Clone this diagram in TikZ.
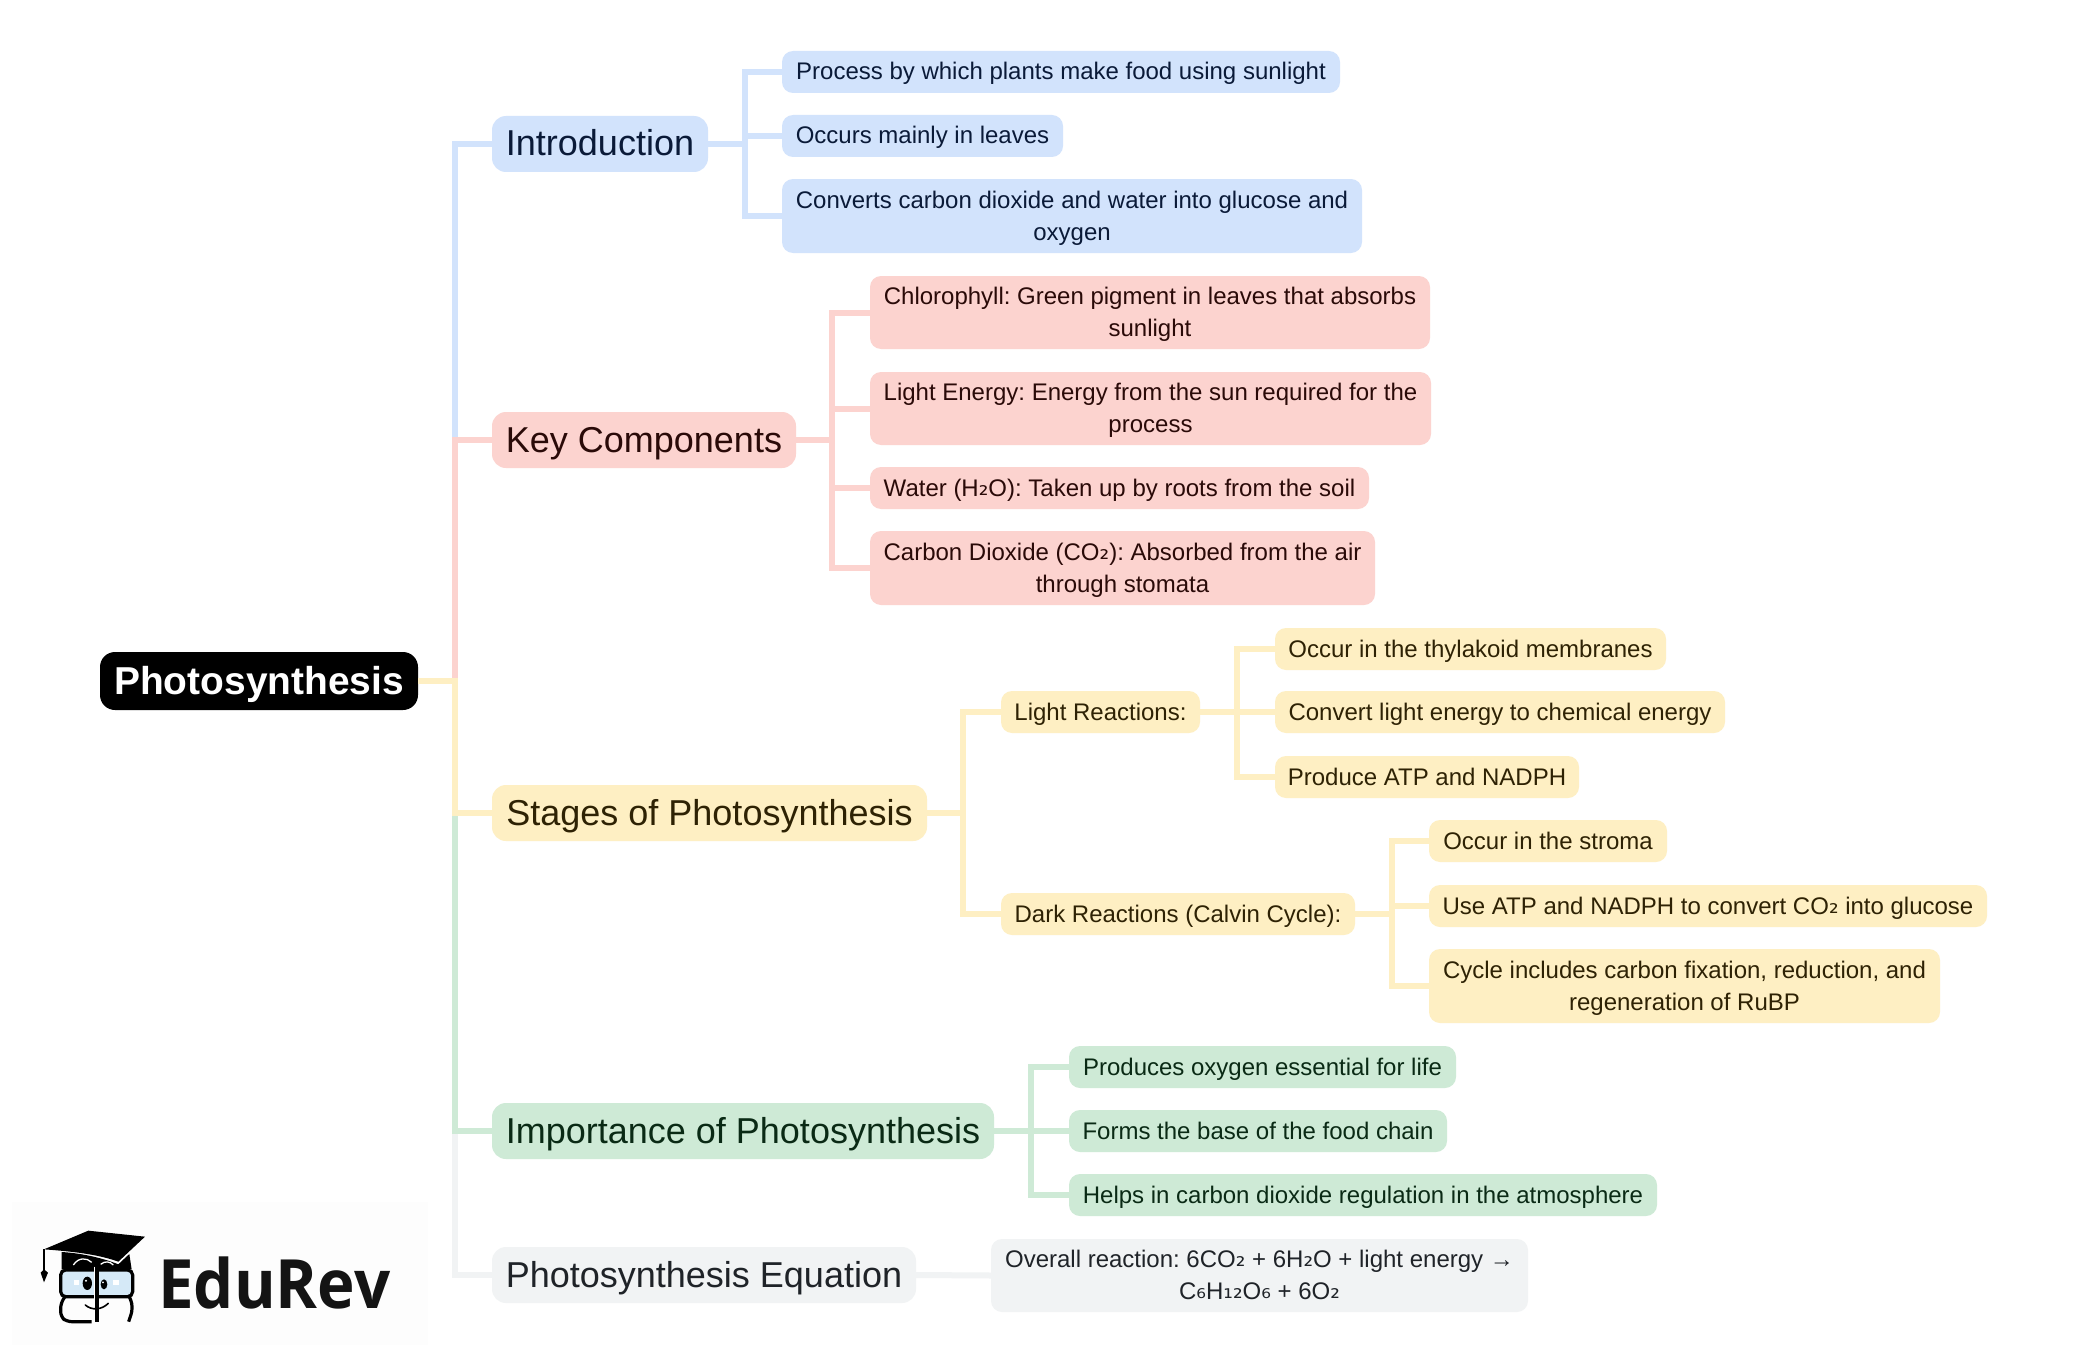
\documentclass[tikz,border=0pt]{standalone}
\usepackage{fontspec}
\setmainfont{Liberation Sans}
\newfontfamily\logofont{Open Sans}
\newfontfamily\subfont{DejaVu Sans}
\newcommand{\sbd}[1]{\raisebox{0.03em}{\subfont #1}}
\frenchspacing
\definecolor{bluef}{HTML}{D2E3FC}
\definecolor{redf}{HTML}{FCD3CF}
\definecolor{yelf}{HTML}{FEEFC3}
\definecolor{grnf}{HTML}{CEEAD6}
\definecolor{gryf}{HTML}{F1F3F4}
\definecolor{bluet}{HTML}{0A1A38}
\definecolor{redt}{HTML}{2A0A08}
\definecolor{yelt}{HTML}{2E2204}
\definecolor{grnt}{HTML}{0A2A15}
\definecolor{gryt}{HTML}{1F2328}
\definecolor{lens}{HTML}{D5E9F7}
\newcommand{\lh}{\rule{0pt}{23pt}\rule[-7pt]{0pt}{7pt}}
\newcommand{\mh}{\rule{0pt}{33pt}\rule[-9pt]{0pt}{9pt}}
\newcommand{\rh}{\rule{0pt}{35pt}\rule[-9pt]{0pt}{9pt}}
\tikzset{
  box/.style={rectangle,inner sep=0pt,outer sep=0pt,align=center},
  mainbox/.style={box,rounded corners=14pt,font=\fontsize{36}{42}\selectfont},
  leafbox/.style={box,rounded corners=11pt,font=\fontsize{24}{32}\selectfont},
  rootbox/.style={box,rounded corners=15pt,fill=black,text=white,font=\fontsize{38.9}{46}\selectfont\bfseries},
  bluek/.style={fill=bluef,text=bluet},
  redk/.style={fill=redf,text=redt},
  yelk/.style={fill=yelf,text=yelt},
  grnk/.style={fill=grnf,text=grnt},
  gryk/.style={fill=gryf,text=gryt},
  conn/.style={line width=6pt},
  cblue/.style={conn,draw=bluef},
  cred/.style={conn,draw=redf},
  cyel/.style={conn,draw=yelf},
  cgrn/.style={conn,draw=grnf},
  cgry/.style={conn,draw=gryf},
}
% style, name, left, right, top, bottom, text
\newcommand{\bx}[7]{\node[#1,minimum width=\dimexpr#4pt-#3pt\relax,minimum height=\dimexpr#6pt-#5pt\relax] (#2) at ({(#3+#4)/2},{(#5+#6)/2}) {#7};}
\begin{document}
\begin{tikzpicture}[x=1pt,y=-1pt]
\useasboundingbox (0,0) rectangle (2086,1362);
\fill[white] (0,0) rectangle (2086,1362);
\fill[black!0.6] (12,1202) rectangle (428,1345);
% nodes
\bx{rootbox}{root}{100}{418}{652}{710}{\rh Photosynthesis}
\bx{mainbox,bluek}{intro}{492}{708}{116}{172}{\mh Introduction}
\bx{leafbox,bluek}{ia}{782}{1340}{51}{93}{\lh Process by which plants make food using sunlight}
\bx{leafbox,bluek}{ib}{782}{1063}{115}{157}{\lh Occurs mainly in leaves}
\bx{leafbox,bluek}{ic}{782}{1362}{179}{253}{\lh Converts carbon dioxide and water into glucose and\\oxygen\lh}
\bx{mainbox,redk}{key}{492}{796}{412}{468}{\mh Key Components}
\bx{leafbox,redk}{ka}{870}{1430}{276}{349}{\lh Chlorophyll: Green pigment in leaves that absorbs\\sunlight\lh}
\bx{leafbox,redk}{kb}{870}{1431}{372}{445}{\lh Light Energy: Energy from the sun required for the\\process\lh}
\bx{leafbox,redk}{kc}{870}{1369}{467}{509}{\lh Water (H\sbd{₂}O): Taken up by roots from the soil}
\bx{leafbox,redk}{kd}{870}{1375}{531}{605}{\lh Carbon Dioxide (CO\sbd{₂}): Absorbed from the air\\through stomata\lh}
\bx{mainbox,yelk}{stages}{492}{927}{785}{841}{\mh Stages of Photosynthesis}
\bx{leafbox,yelk}{light}{1001}{1200}{691}{733}{\lh Light Reactions:}
\bx{leafbox,yelk}{dark}{1001}{1355}{893}{935}{\lh Dark Reactions (Calvin Cycle):}
\bx{leafbox,yelk}{la}{1275}{1666}{628}{670}{\lh Occur in the thylakoid membranes}
\bx{leafbox,yelk}{lb}{1275}{1725}{691}{733}{\lh Convert light energy to chemical energy}
\bx{leafbox,yelk}{lc}{1275}{1579}{756}{798}{\lh Produce ATP and NADPH}
\bx{leafbox,yelk}{da}{1429}{1667}{820}{862}{\lh Occur in the stroma}
\bx{leafbox,yelk}{db}{1429}{1987}{885}{927}{\lh Use ATP and NADPH to convert CO\sbd{₂} into glucose}
\bx{leafbox,yelk}{dc}{1429}{1940}{949}{1023}{\lh Cycle includes carbon fixation, reduction, and\\regeneration of RuBP\lh}
\bx{mainbox,grnk}{imp}{492}{994}{1103}{1159}{\mh Importance of Photosynthesis}
\bx{leafbox,grnk}{pa}{1069}{1456}{1046}{1088}{\lh Produces oxygen essential for life}
\bx{leafbox,grnk}{pb}{1069}{1447}{1110}{1152}{\lh Forms the base of the food chain}
\bx{leafbox,grnk}{pc}{1069}{1657}{1174}{1216}{\lh Helps in carbon dioxide regulation in the atmosphere}
\bx{mainbox,gryk}{eqn}{492}{916}{1247}{1303}{\mh Photosynthesis Equation}
\bx{leafbox,gryk}{ea}{991}{1528}{1239}{1312}{\lh Overall reaction: 6CO\sbd{₂} + 6H\sbd{₂}O + light energy →\\C\sbd{₆}H\sbd{₁₂}O\sbd{₆} + 6O\sbd{₂}\lh}
% connectors, root level
\draw[cgry] (root.east) -- ++(37,0) |- (eqn.west);
\draw[cgrn] (root.east) -- ++(37,0) |- (imp.west);
\draw[cblue] (root.east) -- ++(37,0) |- (intro.west);
\draw[cred] (root.east) -- ++(37,0) |- (key.west);
\draw[cyel] (root.east) -- ++(37,0) |- (stages.west);
% second level
\foreach \t in {ia,ib,ic} \draw[cblue] (intro.east) -- ++(37,0) |- (\t.west);
\foreach \t in {ka,kb,kc,kd} \draw[cred] (key.east) -- ++(36,0) |- (\t.west);
\foreach \t in {light,dark} \draw[cyel] (stages.east) -- ++(36,0) |- (\t.west);
\foreach \t in {la,lb,lc} \draw[cyel] (light.east) -- ++(37,0) |- (\t.west);
\foreach \t in {da,db,dc} \draw[cyel] (dark.east) -- ++(37,0) |- (\t.west);
\foreach \t in {pa,pb,pc} \draw[cgrn] (imp.east) -- ++(37,0) |- (\t.west);
\draw[cgry] (eqn.east) -- (ea.west);
% logo
\begin{scope}[shift={(30,1220)},x=0.3333pt,y=-0.3333pt]
\fill[black] (42,88) -- (175,32) -- (345,50) -- (265,125) .. controls (210,105) and (140,95) .. (42,88) -- cycle;
\fill[black] (95,96) .. controls (160,100) and (220,115) .. (265,133) -- (298,102) -- (305,148) -- (95,148) -- cycle;
\draw[white,line width=1.3pt] (130,135) .. controls (145,112) and (170,112) .. (185,127);
\draw[white,line width=1.3pt] (212,133) .. controls (225,122) and (240,124) .. (250,135);
\draw[black,line width=1.3pt] (42,88) -- (42,150);
\fill[black] (42,148) -- (54,158) -- (42,187) -- (32,158) -- cycle;
\draw[black,line width=3.2pt,fill=lens,rounded corners=5pt] (92,150) rectangle (308,230);
\draw[black,line width=3.2pt,rounded corners=5pt] (185,305) -- (110,305) -- (92,290) -- (92,250) -- (105,230);
\draw[black,line width=3.2pt,rounded corners=3pt] (296,305) -- (306,275) -- (306,250) -- (298,230);
\fill[black] (191,140) rectangle (206,305);
\draw[white,line width=0.8pt] (193,140) -- (193,305);
\fill[black] (172,190) ellipse [x radius=14,y radius=20];
\fill[black] (222,193) ellipse [x radius=10,y radius=15];
\fill[white] (168,182) circle (3.5);
\fill[white] (219,187) circle (3);
\fill[white] (132,180) rectangle (148,196);
\fill[white] (250,180) rectangle (266,196);
\draw[black,line width=1.6pt,line cap=round] (166,255) .. controls (185,272) and (215,270) .. (235,250);
\end{scope}
\node[inner sep=0pt,anchor=base west,xscale=0.935,font=\fontsize{68}{70}\selectfont\logofont\bfseries,text=black!92] (logo) at (158,1308.5) {EduRev};
\end{tikzpicture}
\end{document}
